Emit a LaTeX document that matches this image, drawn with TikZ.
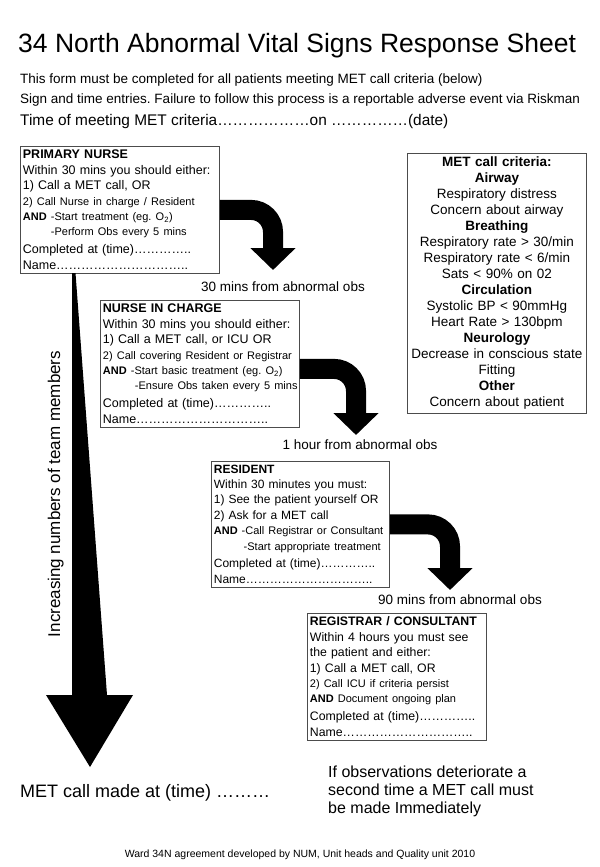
\documentclass[tikz,border=0pt]{standalone}
\usepackage{fontspec}
\setmainfont{Liberation Sans}
\usetikzlibrary{arrows.meta,calc}
\frenchspacing
\newcommand\fsz[2]{\fontsize{#1bp}{#2bp}\selectfont}
\newcommand\sml{\fsz{11}{15.4}}
\newcommand\andind{\phantom{\textbf{AND} }}
\begin{document}
\begin{tikzpicture}[x=1bp,y=-1bp,
  box/.style={draw=black!70, line width=0.8bp, anchor=north west, align=left,
    inner xsep=2.5bp, inner ysep=2bp, font=\fsz{12.5}{15.4}},
  flow/.style={line width=20bp, rounded corners=22bp, -{Triangle[width=44bp,length=22bp]}},
  lbl/.style={font=\fsz{13.5}{16}, inner sep=0pt},
  txt/.style={inner sep=0pt, anchor=base west},
]
\useasboundingbox (0,0) rectangle (600,867);

% header
\node[txt, font=\fsz{26.5}{30}] (title) at (18,52) {34 North Abnormal Vital Signs Response Sheet};
\node[txt, font=\fsz{13.5}{16}] (intro1) at (20,83) {This form must be completed for all patients meeting MET call criteria (below)};
\node[txt, font=\fsz{13.5}{16}] (intro2) at (20,103) {Sign and time entries. Failure to follow this process is a reportable adverse event via Riskman};
\node[txt, font=\fsz{15.4}{18}] (timeline) at (20,125) {Time of meeting MET criteria………………on ……………(date)};

% boxes
\node[box, text width=194bp, minimum height=127bp] (pn) at (20,146)
{\textbf{PRIMARY NURSE}\\
Within 30 mins you should either:\\
1) Call a MET call, OR\\
{\sml 2) Call Nurse in charge / Resident}\\
{\sml\textbf{AND} -Start treatment (eg. O\textsubscript{2})}\\
\mbox{\sml\andind-Perform Obs every 5 mins}\\[2bp]
Completed at (time)…………..\\[1bp]
Name…………………………..};

\node[box, text width=194bp, minimum height=127bp] (nic) at (100,300)
{\textbf{NURSE IN CHARGE}\\
Within 30 mins you should either:\\
1) Call a MET call, or ICU OR\\
{\sml 2) Call covering Resident or Registrar}\\
{\sml\textbf{AND} -Start basic treatment (eg. O\textsubscript{2})}\\
\mbox{\sml\andind\hspace*{4bp}-Ensure Obs taken every 5 mins}\\[2bp]
Completed at (time)…………..\\[1bp]
Name…………………………..};

\node[box, text width=173bp, minimum height=126bp, font=\fsz{12}{15.4}] (res) at (211,461)
{\textbf{RESIDENT}\\
Within 30 minutes you must:\\
1) See the patient yourself OR\\
2) Ask for a MET call\\
{\sml\textbf{AND} -Call Registrar or Consultant}\\
\mbox{\sml\andind\hspace*{2bp}-Start appropriate treatment}\\[2bp]
Completed at (time)…………..\\[1bp]
Name…………………………..};

\node[box, text width=174bp, minimum height=127bp, font=\fsz{12.3}{15.4}] (reg) at (307,613)
{\textbf{REGISTRAR / CONSULTANT}\\
Within 4 hours you must see\\
the patient and either:\\
1) Call a MET call, OR\\
{\sml 2) Call ICU if criteria persist}\\
{\sml\textbf{AND} Document ongoing plan}\\[2bp]
Completed at (time)…………..\\[1bp]
Name…………………………..};

\node[box, align=center, text width=174bp, minimum height=260bp, font=\fsz{13.5}{16}] (met) at (407,153)
{\textbf{MET call criteria:}\\
\textbf{Airway}\\
Respiratory distress\\
Concern about airway\\
\textbf{Breathing}\\
Respiratory rate > 30/min\\
Respiratory rate < 6/min\\
Sats < 90\% on 02\\
\textbf{Circulation}\\
Systolic BP < 90mmHg\\
Heart Rate > 130bpm\\
\textbf{Neurology}\\
Decrease in conscious state\\
Fitting\\
\textbf{Other}\\
Concern about patient};

% curved arrows and labels
\coordinate (t1) at (273,270);
\coordinate (t2) at (356,435);
\coordinate (t3) at (450,590);
\draw[flow] (pn.east) -| (t1);
\draw[flow] ($(nic.east)+(0,5)$) -| (t2);
\draw[flow] (res.east) -| (t3);
\node[lbl] (l1) at (283,287) {30 mins from abnormal obs};
\node[lbl] (l2) at (360,445) {1 hour from abnormal obs};
\node[lbl] (l3) at (460,600) {90 mins from abnormal obs};

% big arrow
\fill (72,273) -- (75.5,273) -- (107,695) -- (133,695) -- (90,767) -- (46,695) -- (72,695) -- cycle;
\node[font=\fsz{17}{20}, rotate=90, anchor=base, inner sep=0pt] (inc) at (60,494) {Increasing numbers of team members};

% bottom texts
\node[txt, font=\fsz{18}{22}] (metmade) at (20,797) {MET call made at (time) ………};
\node[inner sep=0pt, anchor=north west, align=left, font=\fsz{16}{18}] (deter) at (328,766)
{If observations deteriorate a\\ second time a MET call must\\ be made Immediately};
\node[font=\fsz{10.5}{12}, inner sep=0pt] (footer) at (300,855) {Ward 34N agreement developed by NUM, Unit heads and Quality unit 2010};
\end{tikzpicture}
\end{document}
